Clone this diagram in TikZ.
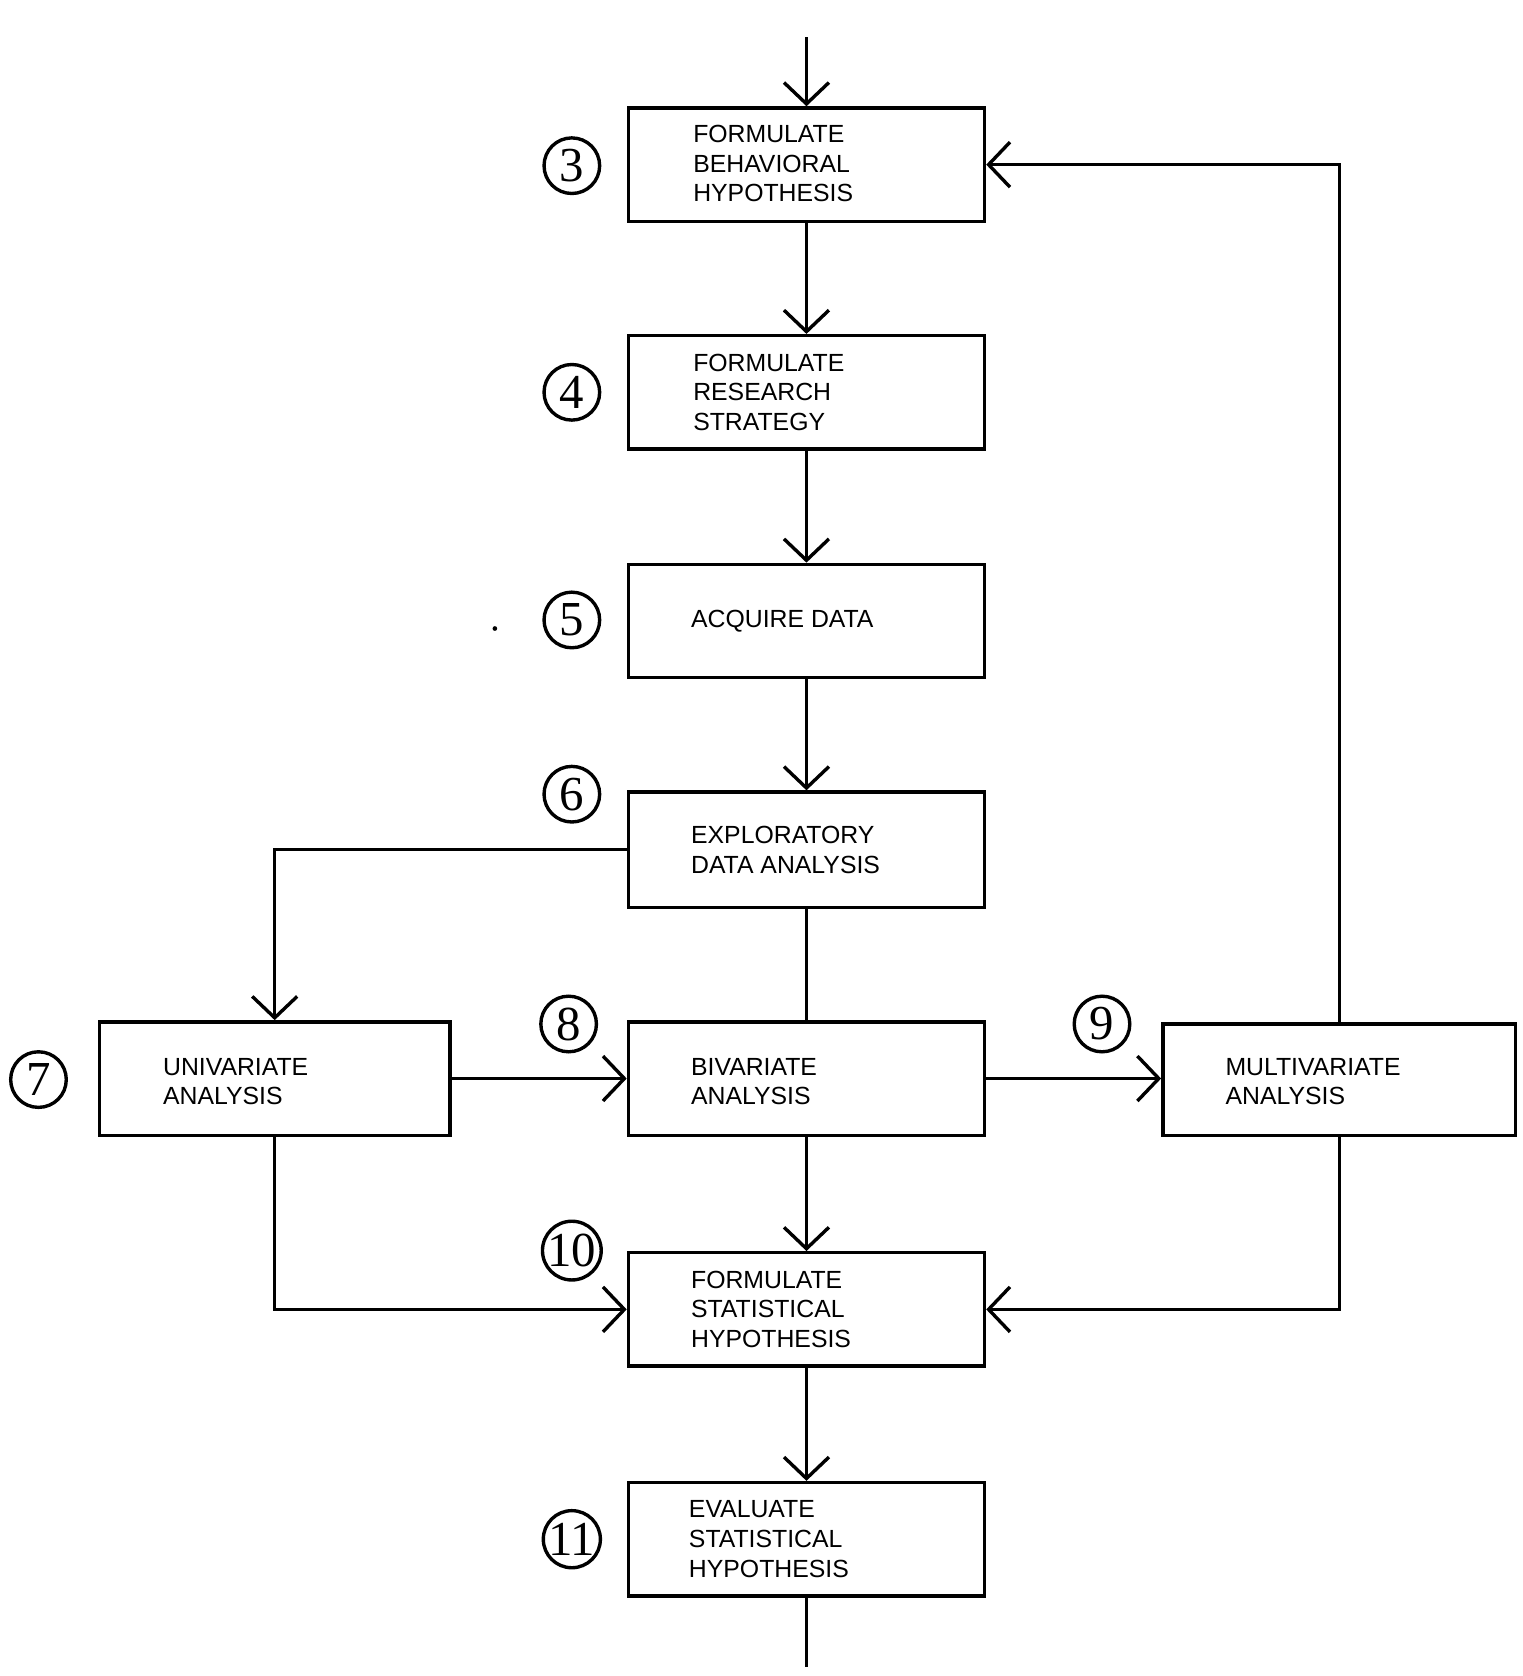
\documentclass[tikz,border=0pt]{standalone}
\usepackage{fontspec}
\setmainfont{Liberation Sans}
\newfontfamily\numfont{Liberation Serif}
\usetikzlibrary{arrows.meta}
\begin{document}
\begin{tikzpicture}[x=0.01cm,y=-0.01cm,line width=0.9pt,
 box/.style={draw,minimum width=3.33cm,minimum height=1.06cm,inner sep=0pt},
 lbl/.style={anchor=west,align=left,font=\fontsize{6.6}{7.9}\selectfont,inner sep=0pt},
 num/.style={draw,circle,minimum size=0.52cm,inner sep=0pt,font=\numfont\fontsize{13}{13}\selectfont},
 arr/.style={-{Straight Barb[length=0.2cm,width=0.42cm,line width=0.9pt]}}]
\useasboundingbox (0,0) rectangle (1424,1568);
\node[box] (b3) at (754.5,154) {};
\node[box] (b4) at (754.5,367) {};
\node[box] (b5) at (754.5,581) {};
\node[box,minimum height=1.08cm] (b6) at (754.5,795) {};
\node[box,minimum width=3.28cm] (b7) at (257,1009) {};
\node[box] (b8) at (754.5,1009) {};
\node[box,minimum width=3.30cm,minimum height=1.04cm] (b9) at (1253,1010) {};
\node[box] (b10) at (754.5,1225) {};
\node[box] (b11) at (754.5,1440) {};
\node[lbl] (t3) at (647,153) {FORMULATE\\BEHAVIORAL\\HYPOTHESIS};
\node[lbl] (t4) at (647,367) {FORMULATE\\RESEARCH\\STRATEGY};
\node[lbl] (t5) at (645,581) {ACQUIRE DATA};
\node[lbl] (t6) at (645,795) {EXPLORATORY\\DATA ANALYSIS};
\node[lbl] (t7) at (151,1012) {UNIVARIATE\\ANALYSIS};
\node[lbl] (t8) at (645,1012) {BIVARIATE\\ANALYSIS};
\node[lbl] (t9) at (1145,1012) {MULTIVARIATE\\ANALYSIS};
\node[lbl] (t10) at (645,1225) {FORMULATE\\STATISTICAL\\HYPOTHESIS};
\node[lbl] (t11) at (643,1440) {EVALUATE\\STATISTICAL\\HYPOTHESIS};
\node[num] (n3) at (535,155) {3};
\node[num] (n4) at (535,367) {4};
\node[num] (n5) at (535,580) {5};
\node[num] (n6) at (535,743) {6};
\node[num] (n7) at (36,1010) {7};
\node[num] (n8) at (532,958) {8};
\node[num] (n9) at (1031,958) {9};
\node[num] (n10) at (535,1170) {10};
\node[num] (n11) at (535,1440) {11};
\fill (463,588) circle (2.2);
\coordinate (top) at (754.5,35);
\coordinate (bot) at (754.5,1560);
\draw[arr] (top) -- (b3.north);
\draw[arr] (b3) -- (b4);
\draw[arr] (b4) -- (b5);
\draw[arr] (b5) -- (b6);
\draw (b6) -- (b8);
\draw[arr] (b6.west |- 0,795) -| (b7.north);
\draw[arr] (b7) -- (b8);
\draw[arr] (b8) -- (b9.west |- b8);
\draw[arr] (b8) -- (b10);
\draw[arr] (b10) -- (b11);
\draw (b11) -- (bot);
\draw[arr] (b9.north) |- (b3.east);
\draw[arr] (b7.south) |- (b10.west);
\draw[arr] (b9.south) |- (b10.east);
\end{tikzpicture}
\end{document}
